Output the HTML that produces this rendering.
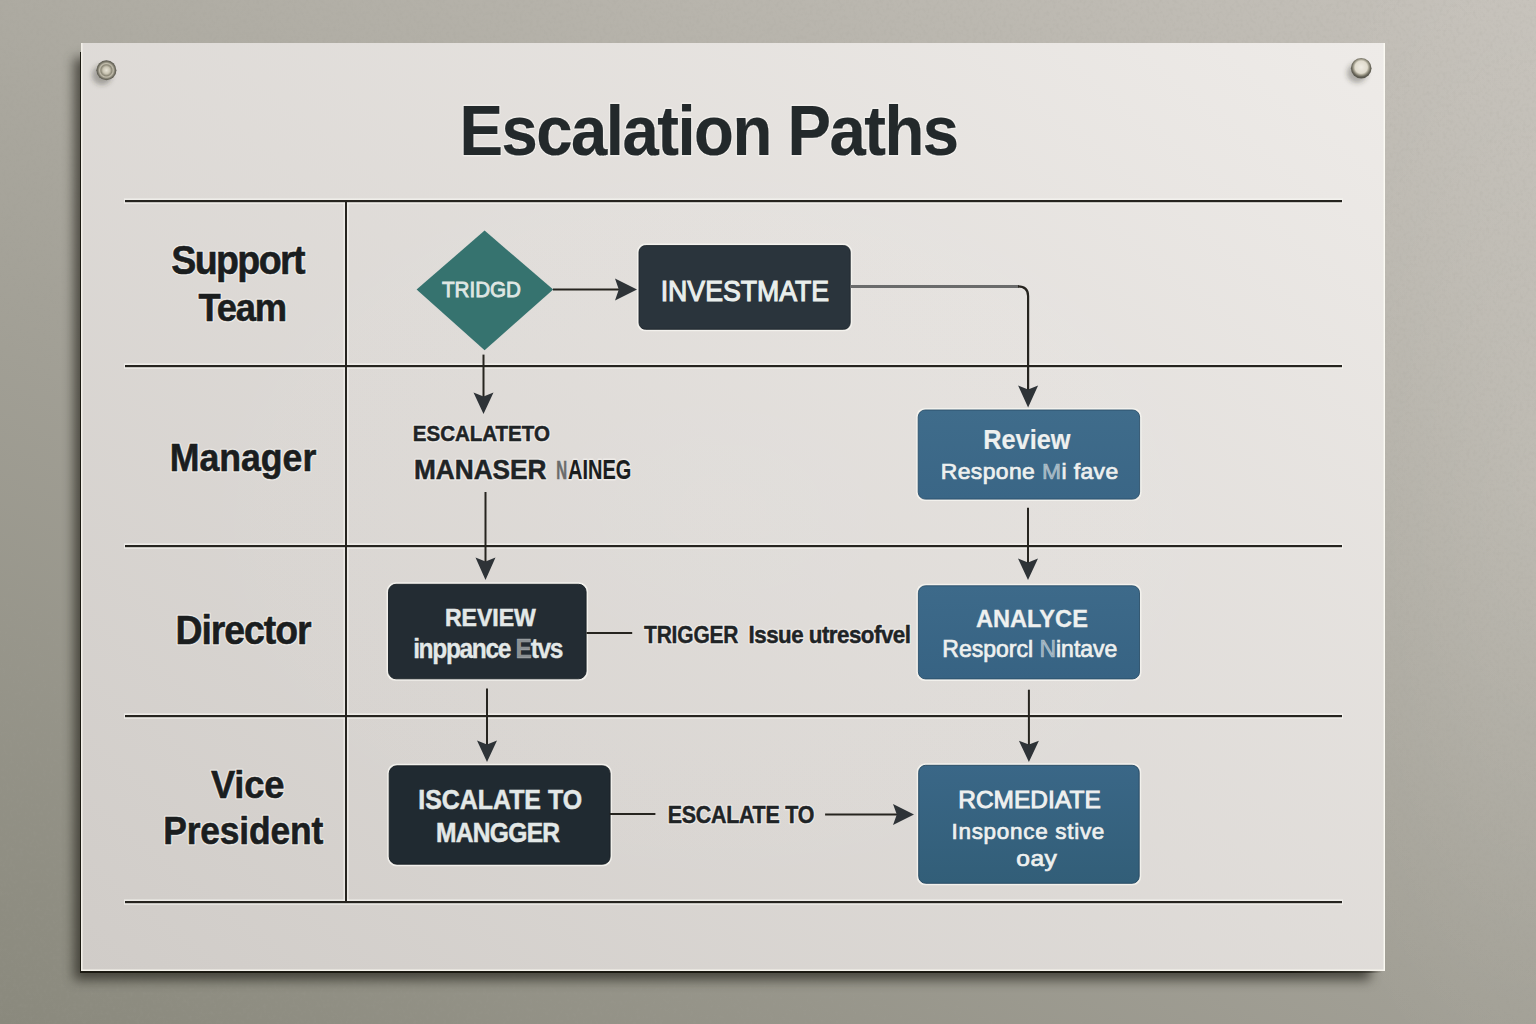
<!DOCTYPE html>
<html><head><meta charset="utf-8"><style>
html,body{margin:0;padding:0;width:1536px;height:1024px;overflow:hidden;}
body{position:relative;font-family:"Liberation Sans",sans-serif;
background:radial-gradient(ellipse 260px 650px at 1530px 480px,rgba(255,250,245,.12),rgba(255,250,245,0)),linear-gradient(24.6deg,#8a897d 0%,#c5c1ba 100%);}
#poster{position:absolute;left:81px;top:43px;width:1304px;height:928px;
background:radial-gradient(ellipse 50% 50% at 50% 50%,rgba(255,255,255,.05),rgba(255,255,255,0)),linear-gradient(38deg,#d0ccc8 0%,#eeebe8 100%);
box-shadow:inset 1.6px 0 0 #f2efe8,inset -1.4px 0 0 #fbf9f2,inset 0 -1.6px 0 #f6f3ec;}
#sh1{position:absolute;left:74px;top:58px;width:1296px;height:922px;background:rgba(28,26,18,.65);filter:blur(6px);}
#sh2{position:absolute;left:79.6px;top:52px;width:1302px;height:920.8px;background:linear-gradient(90deg,#1c1a12 0%,#1c1a12 93%,rgba(40,38,30,.5) 99%,rgba(40,38,30,0) 100%);filter:blur(.4px);}
svg{position:absolute;left:0;top:0;}
</style></head><body>
<svg width="1536" height="1024" style="position:absolute;left:0;top:0"><filter id="tex" x="0" y="0" width="100%" height="100%"><feTurbulence type="fractalNoise" baseFrequency="0.3 0.25" numOctaves="2" seed="7"/><feColorMatrix type="matrix" values="0 0 0 0 0.35  0 0 0 0 0.34  0 0 0 0 0.3  2.2 0 0 0 -1.0"/></filter><rect width="1536" height="1024" filter="url(#tex)" opacity=".14"/></svg>
<div id="sh1"></div><div id="sh2"></div><div id="poster"></div>
<svg width="1536" height="1024" viewBox="0 0 1536 1024" font-family="Liberation Sans, sans-serif">
<defs>
<linearGradient id="gb1" x1="0" y1="0" x2="0" y2="1"><stop offset="0" stop-color="#3f6c8b"/><stop offset="1" stop-color="#3a6686"/></linearGradient>
<linearGradient id="gb2" x1="0" y1="0" x2="0" y2="1"><stop offset="0" stop-color="#3d6a8a"/><stop offset="1" stop-color="#376383"/></linearGradient>
<linearGradient id="gb3" x1="0" y1="0" x2="0" y2="1"><stop offset="0" stop-color="#3a6787"/><stop offset="1" stop-color="#325e78"/></linearGradient>
<radialGradient id="pin" cx="0.5" cy="0.5" r="0.5"><stop offset="0" stop-color="#e8e4d6"/><stop offset="0.35" stop-color="#c9c4b2"/><stop offset="0.55" stop-color="#8c8877"/><stop offset="0.68" stop-color="#c2bdac"/><stop offset="0.85" stop-color="#7b786a"/><stop offset="1" stop-color="#55534a"/></radialGradient>
<radialGradient id="pin2" cx="0.5" cy="0.45" r="0.5"><stop offset="0" stop-color="#efebe2"/><stop offset="0.6" stop-color="#e0dbcd"/><stop offset="0.75" stop-color="#a6a291"/><stop offset="0.9" stop-color="#6f6c5f"/><stop offset="1" stop-color="#5a584e"/></radialGradient>
<filter id="blur2" x="-50%" y="-50%" width="200%" height="200%"><feGaussianBlur stdDeviation="2.5"/></filter>
</defs>
<circle cx="102" cy="75" r="10" fill="rgba(50,50,40,.35)" filter="url(#blur2)"/>
<circle cx="106.4" cy="70.3" r="10" fill="url(#pin)"/>
<circle cx="1357" cy="73" r="10" fill="rgba(50,50,40,.35)" filter="url(#blur2)"/>
<circle cx="1361.2" cy="68.2" r="10.3" fill="url(#pin2)"/>
<rect x="124" y="198.4" width="1219" height="5.4" fill="#f7f5f1" opacity=".7"/>
<rect x="124" y="363.4" width="1219" height="5.4" fill="#f7f5f1" opacity=".7"/>
<rect x="124" y="543.4" width="1219" height="5.4" fill="#f7f5f1" opacity=".7"/>
<rect x="124" y="713.4" width="1219" height="5.4" fill="#f7f5f1" opacity=".7"/>
<rect x="124" y="899.4" width="1219" height="5.4" fill="#f7f5f1" opacity=".7"/>
<rect x="343.4" y="200" width="5.2" height="703" fill="#f7f5f1" opacity=".6"/>
<rect x="125" y="200" width="1217" height="2.2" fill="#26241f"/>
<rect x="125" y="365" width="1217" height="2.2" fill="#26241f"/>
<rect x="125" y="545" width="1217" height="2.2" fill="#26241f"/>
<rect x="125" y="715" width="1217" height="2.2" fill="#26241f"/>
<rect x="125" y="901" width="1217" height="2.2" fill="#26241f"/>
<rect x="345" y="200" width="2" height="703" fill="#26241f"/>
<polygon points="416.6,289.6 484.6,230.5 553.2,289.6 484.6,350.3" fill="#36736f"/>
<rect x="637.0" y="243.6" width="215.2" height="87.7" rx="8.1" fill="#f6f4f0" opacity=".85"/>
<rect x="639.0" y="245.6" width="211.2" height="83.7" rx="6.5" fill="#2a343c" stroke="#1d252b" stroke-width="0.9"/>
<rect x="916.1999999999999" y="408.0" width="225.39999999999998" height="93.10000000000001" rx="8.6" fill="#f6f4f0" opacity=".85"/>
<rect x="918.1999999999999" y="410.0" width="221.39999999999998" height="89.10000000000001" rx="7" fill="url(#gb1)" stroke="#2a4f6a" stroke-width="0.9"/>
<rect x="386.5" y="582.3" width="201.6" height="98.5" rx="9.1" fill="#f6f4f0" opacity=".85"/>
<rect x="388.5" y="584.3" width="197.6" height="94.5" rx="7.5" fill="#232c33" stroke="#182026" stroke-width="0.9"/>
<rect x="916.4" y="583.8" width="225.1" height="97.10000000000001" rx="8.6" fill="#f6f4f0" opacity=".85"/>
<rect x="918.4" y="585.8" width="221.1" height="93.10000000000001" rx="7" fill="url(#gb2)" stroke="#2a4f6a" stroke-width="0.9"/>
<rect x="387.2" y="763.8" width="224.89999999999998" height="102.4" rx="9.1" fill="#f6f4f0" opacity=".85"/>
<rect x="389.2" y="765.8" width="220.89999999999998" height="98.4" rx="7.5" fill="#202a31" stroke="#161d22" stroke-width="0.9"/>
<rect x="916.6999999999999" y="763.3" width="224.5" height="122.0" rx="8.6" fill="#f6f4f0" opacity=".85"/>
<rect x="918.6999999999999" y="765.3" width="220.5" height="118.0" rx="7" fill="url(#gb3)" stroke="#244660" stroke-width="0.9"/>
<line x1="553" y1="289.5" x2="625" y2="289.5" stroke="#26241f" stroke-width="2"/>
<path d="M637,289.5 L615,278.5 L618.8,289.5 L615,300.5 Z" fill="#2e3337"/>
<path d="M850.6,286.6 H1019" fill="none" stroke="#6a6b6b" stroke-width="3"/>
<path d="M1018,286.4 Q1028.1,286.4 1028.1,296 V395" fill="none" stroke="#26241f" stroke-width="2.2"/>
<path d="M1028.1,407.6 L1018.0999999999999,385.6 L1028.1,389.40000000000003 L1038.1,385.6 Z" fill="#2e3337"/>
<line x1="483.5" y1="354.6" x2="483.5" y2="400" stroke="#26241f" stroke-width="2"/>
<path d="M483.5,413.9 L473.5,392.59999999999997 L483.5,396.4 L493.5,392.59999999999997 Z" fill="#2e3337"/>
<line x1="485.5" y1="492" x2="485.5" y2="565" stroke="#26241f" stroke-width="2"/>
<path d="M485.5,580 L475.5,557.6 L485.5,561.4 L495.5,557.6 Z" fill="#2e3337"/>
<line x1="487" y1="688.5" x2="487" y2="748" stroke="#26241f" stroke-width="2"/>
<path d="M487,762 L477,740.6 L487,744.4 L497,740.6 Z" fill="#2e3337"/>
<line x1="1028" y1="507.8" x2="1028" y2="565" stroke="#26241f" stroke-width="2"/>
<path d="M1028,580.1 L1018,558.6 L1028,562.4 L1038,558.6 Z" fill="#2e3337"/>
<line x1="1028.9" y1="689.7" x2="1028.9" y2="748" stroke="#26241f" stroke-width="2"/>
<path d="M1028.9,762 L1018.9000000000001,740.8 L1028.9,744.5999999999999 L1038.9,740.8 Z" fill="#2e3337"/>
<line x1="586.5" y1="633" x2="632.2" y2="633" stroke="#26241f" stroke-width="2"/>
<line x1="609.7" y1="814" x2="655.4" y2="814" stroke="#26241f" stroke-width="2"/>
<line x1="825.1" y1="814.5" x2="900" y2="814.5" stroke="#26241f" stroke-width="2"/>
<path d="M914,814.5 L893,804.0 L896.8,814.5 L893,825.0 Z" fill="#2e3337"/>
<text transform="translate(459.42,154.90) scale(0.9200,1)" font-size="70.93" font-weight="bold" letter-spacing="-1.63" fill="none" stroke="#f7f5f1" stroke-opacity=".6" stroke-width="2.8000000000000003" stroke-linejoin="round">Escalation Paths</text>
<text transform="translate(459.42,154.90) scale(0.9200,1)" font-size="70.93" font-weight="bold" letter-spacing="-1.63" fill="#23292b" stroke="#23292b" stroke-width="0.2">Escalation Paths</text>
<text transform="translate(171.18,274.10) scale(0.9200,1)" font-size="40.84" font-weight="bold" letter-spacing="-1.74" fill="none" stroke="#f7f5f1" stroke-opacity=".6" stroke-width="3.2" stroke-linejoin="round">Support</text>
<text transform="translate(171.18,274.10) scale(0.9200,1)" font-size="40.84" font-weight="bold" letter-spacing="-1.74" fill="#1b1e1f" stroke="#1b1e1f" stroke-width="0.6">Support</text>
<text transform="translate(198.50,320.50) scale(0.9200,1)" font-size="39.53" font-weight="bold" letter-spacing="-1.34" fill="none" stroke="#f7f5f1" stroke-opacity=".6" stroke-width="3.2" stroke-linejoin="round">Team</text>
<text transform="translate(198.50,320.50) scale(0.9200,1)" font-size="39.53" font-weight="bold" letter-spacing="-1.34" fill="#1b1e1f" stroke="#1b1e1f" stroke-width="0.6">Team</text>
<text transform="translate(169.73,470.80) scale(0.9362,1)" font-size="38.08" font-weight="bold" letter-spacing="0.00" fill="none" stroke="#f7f5f1" stroke-opacity=".6" stroke-width="3.2" stroke-linejoin="round">Manager</text>
<text transform="translate(169.73,470.80) scale(0.9362,1)" font-size="38.08" font-weight="bold" letter-spacing="0.00" fill="#1b1e1f" stroke="#1b1e1f" stroke-width="0.6">Manager</text>
<text transform="translate(175.46,643.90) scale(0.9200,1)" font-size="40.70" font-weight="bold" letter-spacing="-1.16" fill="none" stroke="#f7f5f1" stroke-opacity=".6" stroke-width="3.2" stroke-linejoin="round">Director</text>
<text transform="translate(175.46,643.90) scale(0.9200,1)" font-size="40.70" font-weight="bold" letter-spacing="-1.16" fill="#1b1e1f" stroke="#1b1e1f" stroke-width="0.6">Director</text>
<text transform="translate(210.90,797.70) scale(0.9200,1)" font-size="39.53" font-weight="bold" letter-spacing="-0.16" fill="none" stroke="#f7f5f1" stroke-opacity=".6" stroke-width="3.2" stroke-linejoin="round">Vice</text>
<text transform="translate(210.90,797.70) scale(0.9200,1)" font-size="39.53" font-weight="bold" letter-spacing="-0.16" fill="#1b1e1f" stroke="#1b1e1f" stroke-width="0.6">Vice</text>
<text transform="translate(163.36,843.80) scale(0.9200,1)" font-size="38.52" font-weight="bold" letter-spacing="-0.22" fill="none" stroke="#f7f5f1" stroke-opacity=".6" stroke-width="3.2" stroke-linejoin="round">President</text>
<text transform="translate(163.36,843.80) scale(0.9200,1)" font-size="38.52" font-weight="bold" letter-spacing="-0.22" fill="#1b1e1f" stroke="#1b1e1f" stroke-width="0.6">President</text>
<text transform="translate(441.95,297.45) scale(0.9333,1)" font-size="22.09" font-weight="normal" letter-spacing="0.00" fill="#dfe6e3" stroke="#dfe6e3" stroke-width="0.9">TRIDGD</text>
<text transform="translate(660.69,301.05) scale(0.9323,1)" font-size="28.63" font-weight="normal" letter-spacing="0.00" fill="#e9eeec" stroke="#e9eeec" stroke-width="1.1">INVESTMATE</text>
<text transform="translate(412.82,441.05) scale(0.9288,1)" font-size="22.09" font-weight="bold" letter-spacing="0.00" fill="none" stroke="#f7f5f1" stroke-opacity=".6" stroke-width="3.1" stroke-linejoin="round">ESCALATETO</text>
<text transform="translate(412.82,441.05) scale(0.9288,1)" font-size="22.09" font-weight="bold" letter-spacing="0.00" fill="#1f2426" stroke="#1f2426" stroke-width="0.5">ESCALATETO</text>
<text transform="translate(413.89,479.45) scale(0.9603,1)" font-size="27.33" font-weight="bold" letter-spacing="0.00" fill="none" stroke="#f7f5f1" stroke-opacity=".6" stroke-width="3.1" stroke-linejoin="round">MANASER</text>
<text transform="translate(413.89,479.45) scale(0.9603,1)" font-size="27.33" font-weight="bold" letter-spacing="0.00" fill="#1f2426" stroke="#1f2426" stroke-width="0.5">MANASER</text>
<text transform="translate(568.10,479.20) scale(0.7464,1)" font-size="26.74" font-weight="bold" letter-spacing="0.00" fill="none" stroke="#f7f5f1" stroke-opacity=".6" stroke-width="2.8000000000000003" stroke-linejoin="round">AINEG</text>
<text transform="translate(568.10,479.20) scale(0.7464,1)" font-size="26.74" font-weight="bold" letter-spacing="0.00" fill="#1a1d1e" stroke="#1a1d1e" stroke-width="0.2">AINEG</text>
<text transform="translate(556.27,479.05) scale(0.5812,1)" font-size="25.87" font-weight="bold" letter-spacing="0.00" fill="#6a6c6c" stroke="#6a6c6c" stroke-width="0.5">N</text>
<text transform="translate(444.98,626.45) scale(0.9668,1)" font-size="23.84" font-weight="bold" letter-spacing="0.00" fill="#e3e8e7" stroke="#e3e8e7" stroke-width="0.5">REVIEW</text>
<text transform="translate(413.13,657.55) scale(0.9200,1)" font-size="26.74" font-weight="bold" letter-spacing="-1.49" fill="#e3e8e7" stroke="#e3e8e7" stroke-width="0.3">inppance <tspan fill-opacity='.55' stroke-opacity='.55'>E</tspan>tvs</text>
<text transform="translate(644.00,642.80) scale(0.8600,1)" font-size="24.42" font-weight="bold" letter-spacing="-0.22" fill="none" stroke="#f7f5f1" stroke-opacity=".6" stroke-width="3.0" stroke-linejoin="round">TRIGGER</text>
<text transform="translate(644.00,642.80) scale(0.8600,1)" font-size="24.42" font-weight="bold" letter-spacing="-0.22" fill="#1f2426" stroke="#1f2426" stroke-width="0.4">TRIGGER</text>
<text transform="translate(748.53,642.75) scale(0.9200,1)" font-size="24.27" font-weight="bold" letter-spacing="-0.54" fill="none" stroke="#f7f5f1" stroke-opacity=".6" stroke-width="3.1" stroke-linejoin="round">Issue utresofvel</text>
<text transform="translate(748.53,642.75) scale(0.9200,1)" font-size="24.27" font-weight="bold" letter-spacing="-0.54" fill="#1f2426" stroke="#1f2426" stroke-width="0.5">Issue utresofvel</text>
<text transform="translate(418.32,809.05) scale(0.9318,1)" font-size="26.74" font-weight="bold" letter-spacing="0.00" fill="#e3e8e7" stroke="#e3e8e7" stroke-width="0.5">ISCALATE TO</text>
<text transform="translate(436.03,842.25) scale(0.9200,1)" font-size="26.74" font-weight="bold" letter-spacing="-0.79" fill="#e3e8e7" stroke="#e3e8e7" stroke-width="0.5">MANGGER</text>
<text transform="translate(667.67,823.45) scale(0.8800,1)" font-size="24.27" font-weight="bold" letter-spacing="-0.24" fill="none" stroke="#f7f5f1" stroke-opacity=".6" stroke-width="3.1" stroke-linejoin="round">ESCALATE TO</text>
<text transform="translate(667.67,823.45) scale(0.8800,1)" font-size="24.27" font-weight="bold" letter-spacing="-0.24" fill="#1f2426" stroke="#1f2426" stroke-width="0.5">ESCALATE TO</text>
<text transform="translate(983.27,449.00) scale(0.9267,1)" font-size="27.33" font-weight="bold" letter-spacing="0.00" fill="#eef0ef" stroke="#eef0ef" stroke-width="0.2">Review</text>
<text transform="translate(940.80,478.85) scale(1.0500,1)" font-size="21.80" font-weight="normal" letter-spacing="0.38" fill="#eef0ef" stroke="#eef0ef" stroke-width="0.7">Respone <tspan fill-opacity='.5' stroke-opacity='.5'>M</tspan>i fave</text>
<text transform="translate(975.95,626.85) scale(0.9732,1)" font-size="24.27" font-weight="bold" letter-spacing="0.00" fill="#eef0ef" stroke="#eef0ef" stroke-width="0.3">ANALYCE</text>
<text transform="translate(942.36,656.95) scale(0.9886,1)" font-size="23.26" font-weight="normal" letter-spacing="0.00" fill="#eef0ef" stroke="#eef0ef" stroke-width="0.7">Resporcl <tspan fill-opacity='.5' stroke-opacity='.5'>N</tspan>intave</text>
<text transform="translate(958.20,808.00) scale(1.0000,1)" font-size="24.42" font-weight="normal" letter-spacing="0.07" fill="#eef0ef" stroke="#eef0ef" stroke-width="1.0">RCMEDIATE</text>
<text transform="translate(951.50,839.05) scale(1.0500,1)" font-size="21.37" font-weight="normal" letter-spacing="0.69" fill="#eef0ef" stroke="#eef0ef" stroke-width="0.7">Insponce stive</text>
<text transform="translate(1016.35,866.15) scale(1.1000,1)" font-size="22.35" font-weight="normal" letter-spacing="0.35" fill="#eef0ef" stroke="#eef0ef" stroke-width="0.7">oay</text>
</svg>
</body></html>
